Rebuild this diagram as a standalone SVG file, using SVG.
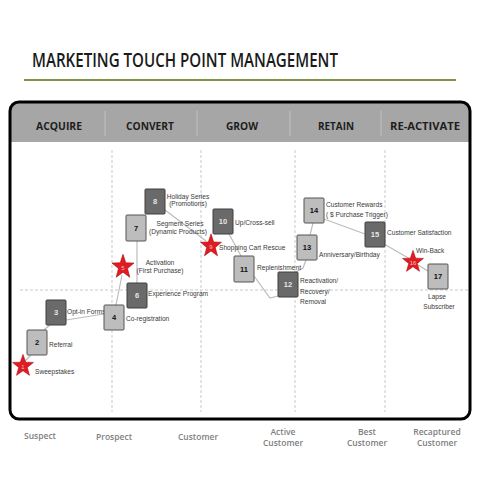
<svg xmlns="http://www.w3.org/2000/svg" width="480" height="480" viewBox="0 0 480 480">
<defs>
<style>
.title{font-family:"Open Sans","Liberation Sans",sans-serif;font-weight:600;font-size:19px;fill:#1a1a1a}
.hdr{font-family:"Open Sans","Liberation Sans",sans-serif;font-weight:700;font-size:10.5px;fill:#1e1e1e;text-anchor:middle}
.stage{font-family:"Open Sans","Liberation Sans",sans-serif;font-weight:600;font-size:8.5px;fill:#808080;text-anchor:middle}
.lbl{font-family:"Liberation Sans",Arial,sans-serif;font-size:6.6px;fill:#3a3a3a}
.mid{text-anchor:middle}
.lt{fill:#bdbdbd;stroke:#555;stroke-width:1}
.dk{fill:#6a6a6a;stroke:#3f3f3f;stroke-width:1}
.nl{font-family:"Liberation Sans",Arial,sans-serif;font-size:7.5px;font-weight:700;fill:#111;text-anchor:middle}
.nd{font-family:"Liberation Sans",Arial,sans-serif;font-size:7.5px;font-weight:700;fill:#e6e6e6;text-anchor:middle}
.ns{font-family:"Liberation Sans",Arial,sans-serif;font-size:6px;fill:#f3c0c0;text-anchor:middle}
.star{fill:#e01b22;stroke:#b01015;stroke-width:0.6}
.grid{stroke:#c9c9c9;stroke-width:1;stroke-dasharray:3 2;fill:none}
.conn{stroke:#bcbcbc;stroke-width:1.2;fill:none}
.div{stroke:#c2c2c2;stroke-width:1}
</style>
<path id="st" d="M0,-11 L2.65,-3.64 L10.46,-3.4 L4.28,1.39 L6.47,8.9 L0,4.5 L-6.47,8.9 L-4.28,1.39 L-10.46,-3.4 L-2.65,-3.64 Z"/>
<clipPath id="fc"><rect x="10" y="102" width="460" height="317" rx="9"/></clipPath>
</defs>
<rect width="480" height="480" fill="#fff"/>
<text class="title" x="32" y="67" textLength="306" lengthAdjust="spacingAndGlyphs">MARKETING TOUCH POINT MANAGEMENT</text>
<line x1="24" y1="80" x2="456" y2="80" stroke="#7d9445" stroke-width="2"/>

<g id="frame">
<rect x="10" y="102" width="460" height="317" rx="9" fill="#fff"/>
<rect x="10" y="102" width="460" height="40" fill="#a6a6a6" clip-path="url(#fc)"/>
<line class="div" x1="105" y1="111" x2="105" y2="136"/>
<line class="div" x1="197" y1="111" x2="197" y2="136"/>
<line class="div" x1="290" y1="111" x2="290" y2="136"/>
<line class="div" x1="381" y1="111" x2="381" y2="136"/>
<text class="hdr" x="59" y="130" textLength="46" lengthAdjust="spacingAndGlyphs">ACQUIRE</text>
<text class="hdr" x="150" y="130" textLength="48" lengthAdjust="spacingAndGlyphs">CONVERT</text>
<text class="hdr" x="242" y="130" textLength="32" lengthAdjust="spacingAndGlyphs">GROW</text>
<text class="hdr" x="336" y="130" textLength="36" lengthAdjust="spacingAndGlyphs">RETAIN</text>
<text class="hdr" x="425" y="130" textLength="70" lengthAdjust="spacingAndGlyphs">RE-ACTIVATE</text>
</g>

<g id="grid">
<line class="grid" x1="20" y1="290" x2="468" y2="290"/>
<line class="grid" x1="112" y1="150" x2="112" y2="412"/>
<line class="grid" x1="201" y1="150" x2="201" y2="412"/>
<line class="grid" x1="295" y1="150" x2="295" y2="412"/>
<line class="grid" x1="385" y1="150" x2="385" y2="412"/>
</g>

<g id="connectors">
<line class="conn" x1="24" y1="362" x2="31" y2="355"/>
<line class="conn" x1="44" y1="330" x2="50" y2="325"/>
<line class="conn" x1="66" y1="320" x2="104" y2="314"/>
<line class="conn" x1="116" y1="305" x2="122" y2="275"/>
<line class="conn" x1="137" y1="283" x2="137" y2="241"/>
<line class="conn" x1="165" y1="210" x2="206" y2="241"/>
<line class="conn" x1="229" y1="234" x2="241" y2="256"/>
<polyline class="conn" points="254,276 270,298 278,296"/>
<polyline class="conn" points="306,260 303,268 296,272"/>
<line class="conn" x1="310" y1="235" x2="313" y2="223"/>
<line class="conn" x1="324" y1="219" x2="365" y2="234"/>
<line class="conn" x1="384" y1="244" x2="410" y2="259"/>
<line class="conn" x1="418" y1="265" x2="428" y2="271"/>
</g>

<g id="n1"><use href="#st" class="star" transform="translate(23,366) scale(1,1.05)"/><text class="ns" x="23" y="369">1</text><text class="lbl" x="35" y="374">Sweepstakes</text></g>
<g id="n2"><rect class="lt" x="27" y="330" width="20" height="25" rx="1"/><text class="nl" x="37" y="345">2</text><text class="lbl" x="49" y="347">Referral</text></g>
<g id="n3"><rect class="dk" x="46" y="300" width="20" height="25" rx="1"/><text class="nd" x="56" y="315">3</text><text class="lbl" x="67" y="314">Opt-in Forms</text></g>
<g id="n4"><rect class="lt" x="104" y="305" width="20" height="25" rx="1"/><text class="nl" x="114" y="320">4</text><text class="lbl" x="126" y="321">Co-registration</text></g>
<g id="n5"><use href="#st" class="star" transform="translate(123,267) scale(1.05,1.15)"/><text class="ns" x="123" y="270">5</text><text class="lbl mid" x="160" y="265">Activation</text><text class="lbl mid" x="160" y="273">(First Purchase)</text></g>
<g id="n6"><rect class="dk" x="127" y="283" width="20" height="25" rx="1"/><text class="nd" x="137" y="298">6</text><text class="lbl" x="148" y="296">Experience Program</text></g>
<g id="n7"><rect class="lt" x="126" y="215" width="20" height="26" rx="1"/><text class="nl" x="136" y="231">7</text><text class="lbl mid" x="180" y="226">Segment Series</text><text class="lbl mid" x="178" y="234">(Dynamic Products)</text></g>
<g id="n8"><rect class="dk" x="145" y="189" width="20" height="25" rx="1"/><text class="nd" x="155" y="204">8</text><text class="lbl mid" x="188" y="199">Holiday Series</text><text class="lbl mid" x="188" y="206">(Promotions)</text></g>
<g id="n9"><use href="#st" class="star" transform="translate(211,246) scale(1,1.1)"/><text class="ns" x="211" y="249">9</text><text class="lbl" x="219" y="250">Shopping Cart Rescue</text></g>
<g id="n10"><rect class="dk" x="213" y="209" width="20" height="25" rx="1"/><text class="nd" x="223" y="224">10</text><text class="lbl" x="235" y="225">Up/Cross-sell</text></g>
<g id="n11"><rect class="lt" x="234" y="256" width="20" height="26" rx="1"/><text class="nl" x="244" y="272">11</text><text class="lbl" x="257" y="270">Replenishment</text></g>
<g id="n12"><rect class="dk" x="278" y="272" width="20" height="25" rx="1"/><text class="nd" x="288" y="287">12</text><text class="lbl" x="300" y="283">Reactivation/</text><text class="lbl" x="300" y="293.5">Recovery/</text><text class="lbl" x="300" y="304">Removal</text></g>
<g id="n13"><rect class="lt" x="297" y="235" width="20" height="25" rx="1"/><text class="nl" x="307" y="250">13</text><text class="lbl" x="319" y="257">Anniversary/Birthday</text></g>
<g id="n14"><rect class="lt" x="304" y="198" width="20" height="25" rx="1"/><text class="nl" x="314" y="213">14</text><text class="lbl" x="326" y="207">Customer Rewards</text><text class="lbl" x="326" y="217">( $ Purchase Trigger)</text></g>
<g id="n15"><rect class="dk" x="365" y="222" width="20" height="25" rx="1"/><text class="nd" x="375" y="237">15</text><text class="lbl" x="387" y="235">Customer Satisfaction</text></g>
<g id="n16"><use href="#st" class="star" transform="translate(413,262) scale(1,1.05)"/><text class="ns" x="413" y="265">16</text><text class="lbl" x="416" y="253">Win-Back</text></g>
<g id="n17"><rect class="lt" x="428" y="264" width="20" height="25" rx="1"/><text class="nl" x="438" y="279">17</text><text class="lbl mid" x="437" y="299">Lapse</text><text class="lbl mid" x="439" y="309">Subscriber</text></g>

<rect x="10" y="102" width="460" height="317" rx="9" fill="none" stroke="#000" stroke-width="3"/>

<g id="stages">
<text class="stage" x="40" y="439">Suspect</text>
<text class="stage" x="114" y="440">Prospect</text>
<text class="stage" x="198" y="440">Customer</text>
<text class="stage" x="283" y="435">Active</text>
<text class="stage" x="283" y="446">Customer</text>
<text class="stage" x="367" y="435">Best</text>
<text class="stage" x="367" y="446">Customer</text>
<text class="stage" x="437" y="435">Recaptured</text>
<text class="stage" x="437" y="446">Customer</text>
</g>
</svg>
